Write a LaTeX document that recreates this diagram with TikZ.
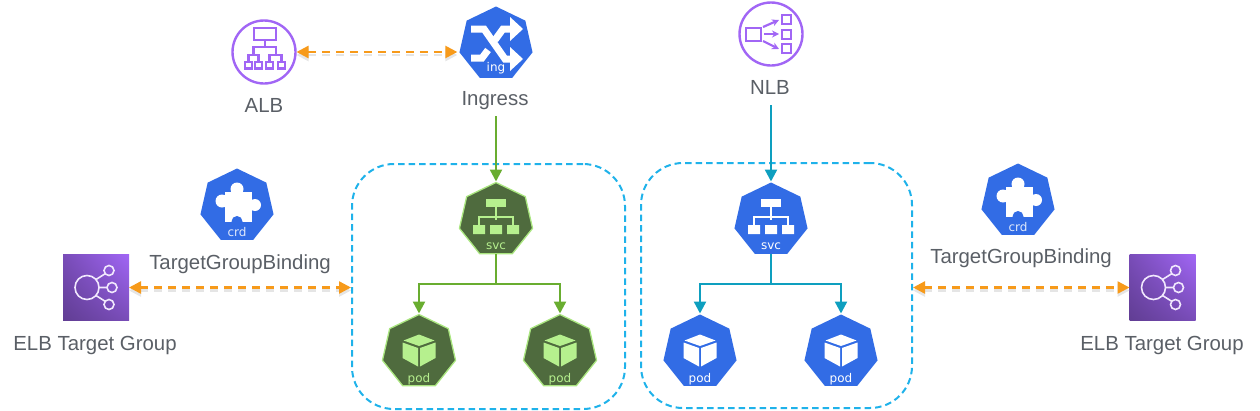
\documentclass[tikz,border=0pt]{standalone}
\usepackage{fontspec}
\setmainfont{Liberation Sans}
\newfontfamily\glabelfont{DejaVu Sans}
\usetikzlibrary{shapes.geometric,arrows.meta,shadings}
\definecolor{kblue}{HTML}{326CE5}
\definecolor{kdark}{HTML}{4F6B3E}
\definecolor{klight}{HTML}{B6F08E}
\definecolor{kgreen}{HTML}{69AD30}
\definecolor{kteal}{HTML}{0E9FBF}
\definecolor{kdash}{HTML}{1FB2EA}
\definecolor{korange}{HTML}{F79A1A}
\definecolor{kpurple}{HTML}{A166F5}
\definecolor{ktext}{HTML}{5A5F66}
\tikzset{
  hept/.style={regular polygon,regular polygon sides=7,minimum size=75pt,inner sep=0pt,outer sep=0pt,line join=round},
  heptblue/.style={hept,fill=kblue},
  heptgreen/.style={hept,fill=kdark,draw=klight!85!kgreen,line width=1.3pt},
  lbl/.style={font=\fontsize{20.4}{24}\selectfont,text=ktext,inner sep=0pt,outer sep=0pt},
  glabel/.style={font=\glabelfont\fontsize{12}{14}\selectfont,inner sep=0pt},
  round icon/.style={circle,draw=kpurple,line width=2.4pt,minimum size=63pt,inner sep=0pt,outer sep=1pt},
  elb/.style={rectangle,minimum size=66pt,inner sep=0pt,outer sep=0pt},
  group/.style={rectangle,rounded corners=42pt,draw=kdash,line width=2pt,dash pattern=on 6.5pt off 4pt,inner sep=0pt},
  solidarrow/.style={line width=2.4pt,-{Triangle[length=12pt,width=12pt]}},
  bidir/.style={korange,line width=2.4pt,dash pattern=on 8pt off 6pt,
    {Triangle[length=12pt,width=12pt]}-{Triangle[length=12pt,width=12pt]},
    preaction={draw=black!10,line width=2.6pt,dash pattern=on 8pt off 6pt,transform canvas={yshift=-3pt}}},
  svcglyph/.pic={
    \fill (-10,-21) rectangle (9.5,-13);
    \draw[line width=1.8pt] (0,-13) -- (0,0) (-17,5) -- (-17,-3.3) -- (17,-3.3) -- (17,5);
    \fill (-23,5) rectangle (-11,14) (-6,5) rectangle (6,14) (11,5) rectangle (23,14);
    \node[glabel] (-t) at (0,26) {svc};
  },
  podglyph/.pic={
    \fill (0,-17.5) -- (15.5,-11.5) -- (0,-6) -- (-15.5,-11.5) -- cycle;
    \fill (-16.5,-9.5) -- (-1,-4) -- (-1,14.5) -- (-16.5,6) -- cycle;
    \fill (16.5,-9.5) -- (1,-4) -- (1,14.5) -- (16.5,6) -- cycle;
    \node[glabel] (-t) at (0,27) {pod};
  },
  crdglyph/.pic={
    \fill (-12,-14) rectangle (15,16);
    \fill (0,-17) circle (6.5) (18,-1) circle (6) (-15,-5) circle (6.5);
    \fill[kblue] (0,15.5) circle (5.5);
    \fill[kblue] (-5.5,15.5) rectangle (5.5,17);
    \node[glabel,text=white!85!kblue] (-t) at (0,26) {crd};
  },
  ingglyph/.pic={
    \draw[line width=7pt,line join=miter] (-25,-15) -- (-12,-15) -- (9,15) -- (16,15);
    \fill (14,3) -- (27,15) -- (14,27) -- cycle;
    \draw[line width=7pt] (-25,14) -- (-14,14) -- (-8,6);
    \draw[line width=7pt] (-1,-4) -- (7,-15) -- (16,-15);
    \fill (14,-27) -- (27,-15) -- (14,-3) -- cycle;
    \node[glabel] (-t) at (0,24.5) {ing};
  },
  albglyph/.pic={
    \draw[line width=2.2pt,kpurple] (-10,-22) rectangle (12,-10);
    \draw[line width=2.2pt,kpurple] (1,-10) -- (1,-3) (-10.5,5) -- (-10.5,-3) -- (12,-3) -- (12,5)
      (-15.5,12) -- (-15.5,5) -- (-5.5,5) -- (-5.5,12)
      (5.5,12) -- (5.5,5) -- (17.5,5) -- (17.5,12);
    \draw[line width=2.2pt,kpurple] (-19,12) rectangle (-12,18.5) (-9,12) rectangle (-2,18.5)
      (2,12) rectangle (9,18.5) (14,12) rectangle (21,18.5);
  },
  nlbglyph/.pic={
    \draw[line width=2.2pt,kpurple] (-25,-6) rectangle (-10,7);
    \draw[line width=2.2pt,kpurple] (11,-19) rectangle (20,-10) (11,-4) rectangle (20,5) (11,10) rectangle (20,19);
    \draw[line width=2.2pt,kpurple,-{Stealth[length=7pt,width=7pt]}] (-8,-7) -- (8,-14);
    \draw[line width=2.2pt,kpurple,-{Stealth[length=7pt,width=7pt]}] (-7,0) -- (8,0);
    \draw[line width=2.2pt,kpurple,-{Stealth[length=7pt,width=7pt]}] (-8,7) -- (8,15);
  },
  elbglyph/.pic={
    \draw[line width=1.6pt,white!85!kpurple] (-9,0) circle (12) (13,-17) circle (5) (16,0) circle (5) (13,17) circle (5);
    \draw[line width=1.6pt,white!85!kpurple] (0,-8) -- (9.5,-14) (3,0) -- (11,0) (0,8) -- (9.5,14);
  }
}
\begin{document}
\begin{tikzpicture}[x=1pt,y=-1pt]
\path[use as bounding box] (0,0) rectangle (1260,410);

% groups
\node[group,minimum width=273pt,minimum height=245pt] (boxL) at (488.5,286.5) {};
\node[group,minimum width=271pt,minimum height=245pt] (boxR) at (776.5,285.5) {};

% Kubernetes icons
\node[heptblue] (ingress) at (496,44) {};
\pic[color=white] (ingG) at (496,44) {ingglyph};
\node[heptgreen] (svcL) at (496,220) {};
\pic[color=klight] (svcLG) at (496,220) {svcglyph};
\node[heptgreen] (podLa) at (419,352) {};
\pic[color=klight] (podLaG) at (419,352) {podglyph};
\node[heptgreen] (podLb) at (560,352) {};
\pic[color=klight] (podLbG) at (560,352) {podglyph};
\node[heptblue] (svcR) at (771,220) {};
\pic[color=white] (svcRG) at (771,220) {svcglyph};
\node[heptblue] (podRa) at (700,352) {};
\pic[color=white] (podRaG) at (700,352) {podglyph};
\node[heptblue] (podRb) at (841,352) {};
\pic[color=white] (podRbG) at (841,352) {podglyph};
\node[heptblue] (crdL) at (237,206) {};
\pic[color=white] (crdLG) at (237,206) {crdglyph};
\node[heptblue] (crdR) at (1018,201) {};
\pic[color=white] (crdRG) at (1018,201) {crdglyph};

% AWS icons
\node[round icon] (alb) at (264,52) {};
\pic (albG) at (264,50) {albglyph};
\node[round icon] (nlb) at (771,34) {};
\pic (nlbG) at (771,34) {nlbglyph};
\node[elb,lower left=kpurple!60!black,lower right=kpurple!75!black,upper left=kpurple!75!black,upper right=kpurple,shade] (elbL) at (96,287.5) {};
\pic (elbLG) at (96,287.5) {elbglyph};
\node[elb,lower left=kpurple!60!black,lower right=kpurple!75!black,upper left=kpurple!75!black,upper right=kpurple,shade] (elbR) at (1162.5,287.5) {};
\pic (elbRG) at (1162.5,287.5) {elbglyph};

% labels
\node[lbl] (albT) at (264,105) {ALB};
\node[lbl] (ingT) at (495,101) {Ingress};
\node[lbl] (nlbT) at (770,87) {NLB};
\node[lbl] (tgbL) at (240,264) {TargetGroupBinding};
\node[lbl] (tgbR) at (1021,258) {TargetGroupBinding};
\node[lbl] (elbTL) at (95,345) {ELB Target Group};
\node[lbl] (elbTR) at (1162,345) {ELB Target Group};

% connectors
\draw[solidarrow,kgreen,shorten <=6pt,shorten >=1pt] (ingT.south -| svcL.north) -- (svcL.north);
\draw[solidarrow,kteal,shorten <=11pt,shorten >=1pt] (nlbT.south -| svcR.north) -- (svcR.north);
\coordinate (jL) at (496,284);
\coordinate (jR) at (771,284);
\draw[solidarrow,kgreen,shorten >=1pt] (svcL.south) -- (jL) -| (podLa.north);
\draw[solidarrow,kgreen,shorten >=1pt] (svcL.south) -- (jL) -| (podLb.north);
\draw[solidarrow,kteal,shorten >=1pt] (svcR.south) -- (jR) -| (podRa.north);
\draw[solidarrow,kteal,shorten >=1pt] (svcR.south) -- (jR) -| (podRb.north);
\draw[bidir,shorten >=4pt] (alb.east) -- (alb.east -| ingress.west);
\draw[bidir] (elbL.east) -- (elbL.east -| boxL.west);
\draw[bidir] (elbR.west -| boxR.east) -- (elbR.west);
\end{tikzpicture}
\end{document}
